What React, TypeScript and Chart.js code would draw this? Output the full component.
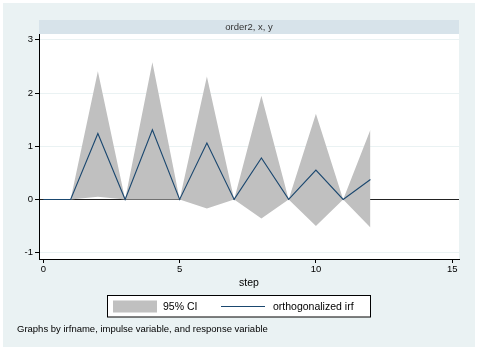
import React, { useEffect, useRef } from "react";
import { Chart, registerables } from "chart.js";

Chart.register(...registerables);

const steps = [0, 1, 2, 3, 4, 5, 6, 7, 8, 9, 10, 11, 12];
const irfValues = [0, 0, 1.24, 0, 1.31, 0, 1.06, 0, 0.78, 0, 0.55, 0, 0.375];
const lowerCI = [0, 0, 0.05, 0, 0, 0, -0.17, 0, -0.36, 0, -0.5, 0, -0.53];
const upperCI = [0, 0, 2.41, 0, 2.58, 0, 2.31, 0, 1.95, 0, 1.61, 0, 1.31];
const xTicks = [0, 5, 10, 15];
const yTicks = [-1, 0, 1, 2, 3];
const panelTitle = "order2, x, y";
const xTitle = "step";
const legendLabels = ["95% CI", "orthogonalized irf"];
const noteText = "Graphs by irfname, impulse variable, and response variable";

const FONT = 'Arial, "Liberation Sans", sans-serif';
const BG = "#eaf2f3";
const STRIP = "#d7e3ea";
const NAVY = "#1a476f";
const CI_GREY = "#c0c0c0";

export default function App() {
  const ref = useRef<HTMLCanvasElement | null>(null);

  useEffect(() => {
    if (!ref.current) return;
    const pts = (arr: number[]) => steps.map((s, i) => ({ x: s, y: arr[i] }));

    const decor = {
      id: "decor",
      beforeDraw(chart: any) {
        const ctx = chart.ctx;
        const a = chart.chartArea;
        ctx.save();
        ctx.fillStyle = "#ffffff";
        ctx.fillRect(0, 0, chart.width, chart.height);
        ctx.fillStyle = BG;
        ctx.fillRect(3, 3, 472, 344);
        ctx.fillStyle = "#ffffff";
        ctx.fillRect(a.left, a.top, a.right - a.left, a.bottom - a.top);
        ctx.fillStyle = STRIP;
        ctx.fillRect(a.left, 20, a.right - a.left, a.top - 20);
        ctx.fillStyle = "#333";
        ctx.font = `9.5px ${FONT}`;
        ctx.textAlign = "center";
        ctx.textBaseline = "middle";
        ctx.fillText(panelTitle, (a.left + a.right) / 2, 27.5);
        ctx.restore();
      },
      afterDraw(chart: any) {
        const ctx = chart.ctx;
        const a = chart.chartArea;
        ctx.save();
        ctx.fillStyle = "#000";
        ctx.textBaseline = "middle";
        ctx.textAlign = "center";
        ctx.font = `10.5px ${FONT}`;
        ctx.fillText(xTitle, (a.left + a.right) / 2, 283);
        // legend box
        ctx.fillStyle = "#fff";
        ctx.fillRect(107.5, 295.5, 263, 21.5);
        ctx.strokeStyle = "#000";
        ctx.lineWidth = 1;
        ctx.strokeRect(107.5, 295.5, 263, 21.5);
        ctx.fillStyle = CI_GREY;
        ctx.fillRect(113, 300.5, 44, 12);
        ctx.strokeStyle = NAVY;
        ctx.beginPath();
        ctx.moveTo(221, 306.5);
        ctx.lineTo(265, 306.5);
        ctx.stroke();
        ctx.fillStyle = "#000";
        ctx.textAlign = "left";
        ctx.font = `10.5px ${FONT}`;
        ctx.fillText(legendLabels[0], 163, 307);
        ctx.fillText(legendLabels[1], 273, 307);
        ctx.font = `9.5px ${FONT}`;
        ctx.fillText(noteText, 17, 329);
        ctx.restore();
      },
    };

    const chart = new Chart(ref.current, {
      type: "line",
      data: {
        datasets: [
          {
            label: "lower",
            data: pts(lowerCI),
            borderWidth: 0,
            borderColor: "rgba(0,0,0,0)",
            pointRadius: 0,
            fill: false,
            order: 3,
          },
          {
            label: legendLabels[0],
            data: pts(upperCI),
            borderWidth: 0,
            borderColor: "rgba(0,0,0,0)",
            backgroundColor: CI_GREY,
            pointRadius: 0,
            fill: "-1",
            order: 2,
          },
          {
            label: legendLabels[1],
            data: pts(irfValues),
            borderWidth: 1.1,
            borderColor: NAVY,
            pointRadius: 0,
            fill: false,
            order: 0,
          },
        ],
      },
      plugins: [decor],
      options: {
        animation: false,
        responsive: false,
        devicePixelRatio: 1,
        layout: { padding: { left: 0, top: 34, right: 21, bottom: 0 } },
        elements: { line: { tension: 0 } },
        plugins: {
          legend: { display: false },
          tooltip: { enabled: false },
          title: { display: false },
        },
        scales: {
          x: {
            type: "linear",
            min: -0.16,
            max: 15.25,
            afterFit: (s: any) => {
              s.height = 94;
            },
            afterBuildTicks: (s: any) => {
              s.ticks = xTicks.map((v) => ({ value: v }));
            },
            border: { display: true, color: "#000", width: 1 },
            grid: {
              drawOnChartArea: false,
              drawTicks: true,
              tickLength: 4,
              tickColor: "#000",
            },
            ticks: {
              color: "#000",
              font: { family: FONT, size: 9.5 },
              padding: 1,
              maxRotation: 0,
              autoSkip: false,
            },
          },
          y: {
            type: "linear",
            min: -1.12,
            max: 3.11,
            afterFit: (s: any) => {
              s.width = 39;
            },
            afterBuildTicks: (s: any) => {
              s.ticks = yTicks.map((v) => ({ value: v }));
            },
            border: { display: true, color: "#000", width: 1 },
            grid: {
              color: (c: any) => (c.tick && c.tick.value === 0 ? "#222" : BG),
              lineWidth: 1,
              drawTicks: true,
              tickLength: 4,
              tickColor: "#000",
            },
            ticks: {
              color: "#000",
              font: { family: FONT, size: 9.5 },
              padding: 2,
              autoSkip: false,
            },
          },
        },
      },
    } as any);
    return () => chart.destroy();
  }, []);

  return (
    <div style={{ position: "fixed", left: 0, top: 0, width: 480, height: 353 }}>
      <canvas ref={ref} width={480} height={353} style={{ display: "block" }} />
    </div>
  );
}
